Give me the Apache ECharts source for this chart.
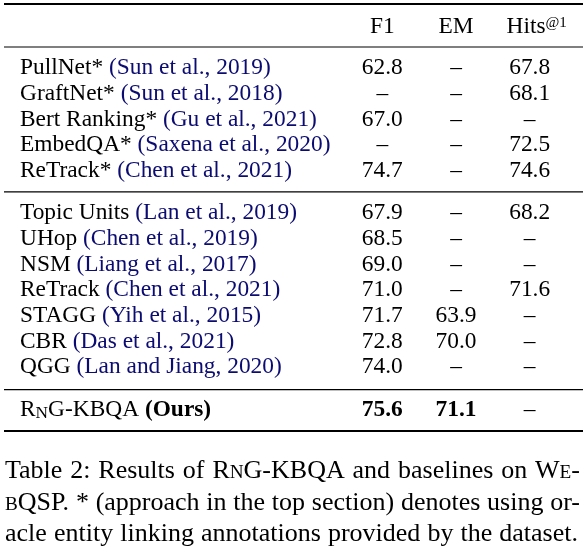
<!DOCTYPE html>
<html>
<head>
<meta charset="utf-8">
<script src="https://cdn.jsdelivr.net/npm/echarts@6/dist/echarts.min.js"></script>
<style>
html,body{margin:0;padding:0;background:#fff}
#c{width:586px;height:551px}
</style>
</head>
<body>
<div id="c"></div>
<script>
// ---------------- data ----------------
const columns = ['F1', 'EM', 'Hits@1'];

const topMethods = ['PullNet*', 'GraftNet*', 'Bert Ranking*', 'EmbedQA*', 'ReTrack*'];
const topCites   = ['(Sun et al., 2019)', '(Sun et al., 2018)', '(Gu et al., 2021)', '(Saxena et al., 2020)', '(Chen et al., 2021)'];
const topF1      = [62.8, null, 67.0, null, 74.7];
const topEM      = [null, null, null, null, null];
const topHits    = [67.8, 68.1, null, 72.5, 74.6];

const midMethods = ['Topic Units', 'UHop', 'NSM', 'ReTrack', 'STAGG', 'CBR', 'QGG'];
const midCites   = ['(Lan et al., 2019)', '(Chen et al., 2019)', '(Liang et al., 2017)', '(Chen et al., 2021)', '(Yih et al., 2015)', '(Das et al., 2021)', '(Lan and Jiang, 2020)'];
const midF1      = [67.9, 68.5, 69.0, 71.0, 71.7, 72.8, 74.0];
const midEM      = [null, null, null, null, 63.9, 70.0, null];
const midHits    = [68.2, null, null, 71.6, null, null, null];

const oursMethods = ['R[n]G-KBQA'];
const oursCites   = ['(Ours)'];
const oursF1      = [75.6];
const oursEM      = [71.1];
const oursHits    = [null];

const captionLines = [
  'Table 2: Results of R[n]G-KBQA and baselines on W[e]-',
  '[b]QSP. * (approach in the top section) denotes using or-',
  'acle entity linking annotations provided by the dataset.'
];

// ---------------- layout / style ----------------
const FONT = '"Liberation Serif","Times New Roman",Times,serif';
const FS = 23.4;        // table font size
const CFS = 26;         // caption font size
const BLUE = '#0b0b72';
const ROW = 25.7;       // row pitch
const headerCenter = 27;
const sectionFirstCenter = [68, 213, 410];
const colLeft = 345.5, colWidth = 221, nameLeft = 20;
const ruleX1 = 4, ruleX2 = 583;

const sections = [
  {names: topMethods, cites: topCites, vals: [topF1, topEM, topHits], ours: false},
  {names: midMethods, cites: midCites, vals: [midF1, midEM, midHits], ours: false},
  {names: oursMethods, cites: oursCites, vals: [oursF1, oursEM, oursHits], ours: true}
];

function scParts(word) {
  const out = []; const re = /\[([^\]]+)\]|([^\[]+)/g; let m;
  while ((m = re.exec(word))) out.push(m[1] ? {t: m[1].toUpperCase(), sc: true} : {t: m[2], sc: false});
  return out;
}

const rich = {
  n:  {fontFamily: FONT, fontSize: FS, lineHeight: FS, color: '#000'},
  sc: {fontFamily: FONT, fontSize: 17.3, lineHeight: 19.4, verticalAlign: 'bottom', color: '#000'},
  c:  {fontFamily: FONT, fontSize: FS, lineHeight: FS, color: BLUE},
  b:  {fontFamily: FONT, fontSize: FS, lineHeight: FS, color: '#000', fontWeight: 'bold'},
  h:  {fontFamily: FONT, fontSize: FS, lineHeight: FS, color: '#000'},
  hh: {fontFamily: FONT, fontSize: FS, lineHeight: FS, color: '#000', padding: [0, 0, 0, 14]},
  s:  {fontFamily: FONT, fontSize: 15, lineHeight: 10, verticalAlign: 'top', color: '#000'}
};

const grids = [], xAxes = [], yAxes = [], series = [];
sections.forEach((sec, si) => {
  const n = sec.names.length;
  const top = sectionFirstCenter[si] - ROW / 2;
  grids.push({left: colLeft, width: colWidth, top: top, height: ROW * n, outerBoundsMode: 'none', containLabel: false});
  xAxes.push({
    type: 'category', gridIndex: si, data: columns, position: 'top',
    show: si === 0,
    axisLine: {show: false}, axisTick: {show: false}, splitLine: {show: false},
    axisLabel: {
      show: si === 0, margin: top - headerCenter, verticalAlign: 'middle', interval: 0,
      fontFamily: FONT, fontSize: FS, color: '#000',
      formatter: v => v.indexOf('@') > 0 ? '{hh|' + v.split('@')[0] + '}{s|@' + v.split('@')[1] + '}' : '{h|' + v + '}',
      rich: rich
    }
  });
  yAxes.push({
    type: 'category', gridIndex: si, data: sec.names, inverse: true,
    axisLine: {show: false}, axisTick: {show: false}, splitLine: {show: false},
    axisLabel: {
      margin: colLeft - nameLeft, align: 'left', interval: 0,
      fontFamily: FONT, fontSize: FS, color: '#000',
      formatter: (v, idx) => {
        const name = scParts(v).map(p => p.sc ? '{sc|' + p.t + '}' : '{n|' + p.t + '}').join('');
        const cite = sec.cites[idx];
        return name + '{n| }' + (sec.ours ? '{b|' + cite + '}' : '{c|' + cite + '}');
      },
      rich: rich
    }
  });
  const data = [];
  sec.vals.forEach((arr, ci) => {
    arr.forEach((v, ri) => {
      data.push({
        value: [columns[ci], sec.names[ri]],
        label: {
          formatter: v === null ? '\u2013' : v.toFixed(1),
          fontWeight: (sec.ours && v !== null) ? 'bold' : 'normal'
        }
      });
    });
  });
  series.push({
    type: 'scatter', xAxisIndex: si, yAxisIndex: si, symbolSize: 0, silent: true,
    itemStyle: {opacity: 1},
    data: data,
    label: {show: true, position: 'inside', fontFamily: FONT, fontSize: FS, color: '#000', opacity: 1}
  });
});

// ---------------- rules (booktabs) ----------------
const lastCenter = sections.map((s, i) => sectionFirstCenter[i] + ROW * (s.names.length - 1));
const rules = [
  {y: headerCenter - 23, w: 2},
  {y: (headerCenter + sectionFirstCenter[0]) / 2 - 0.5, w: 1.2},
  {y: (lastCenter[0] + sectionFirstCenter[1]) / 2, w: 1.2},
  {y: (lastCenter[1] + sectionFirstCenter[2]) / 2 + 1, w: 1.2},
  {y: lastCenter[2] + 21, w: 2}
];
const graphics = rules.map(r => ({
  type: 'line', silent: true,
  shape: {x1: ruleX1, y1: r.y, x2: ruleX2, y2: r.y},
  style: {stroke: '#000', lineWidth: r.w}
}));

// ---------------- caption (justified) ----------------
const ctx = document.createElement('canvas').getContext('2d');
const SCF = 19.2;
function measure(t, fs) { ctx.font = fs + 'px "Liberation Serif"'; return ctx.measureText(t).width; }
const capBaselines = [479.5, 511.5, 543];
const capX0 = 5, capX1 = [580, 580, 578];
captionLines.forEach((line, li) => {
  const words = line.split(' ').map(w => scParts(w).map(p => ({t: p.t, fs: p.sc ? SCF : CFS})));
  const widths = words.map(w => w.reduce((a, p) => a + measure(p.t, p.fs), 0));
  const total = widths.reduce((a, b) => a + b, 0);
  const gap = (capX1[li] - capX0 - total) / (words.length - 1);
  let x = capX0;
  words.forEach((w, wi) => {
    w.forEach(p => {
      graphics.push({
        type: 'text', silent: true, x: x, y: capBaselines[li] - 0.3375 * p.fs,
        style: {text: p.t, fontFamily: FONT, fontSize: p.fs, fill: '#000', align: 'left', verticalAlign: 'middle'}
      });
      x += measure(p.t, p.fs);
    });
    x += gap;
  });
});

const chart = echarts.init(document.getElementById('c'), null, {renderer: 'canvas'});
chart.setOption({
  animation: false,
  backgroundColor: '#fff',
  grid: grids,
  xAxis: xAxes,
  yAxis: yAxes,
  series: series,
  graphic: graphics
});
</script>
</body>
</html>
